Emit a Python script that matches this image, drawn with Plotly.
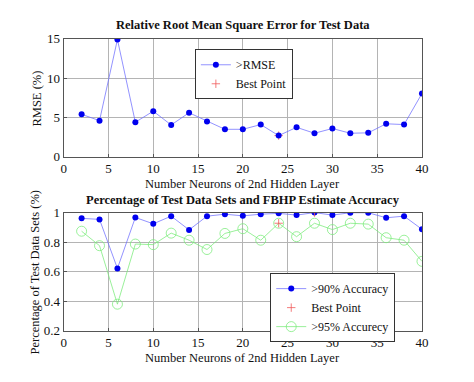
import plotly.graph_objects as go

neurons = [2, 4, 6, 8, 10, 12, 14, 16, 18, 20, 22, 24, 26, 28, 30, 32, 34, 36, 38, 40]
rmse = [5.4, 4.6, 14.9, 4.4, 5.8, 4.05, 5.6, 4.5, 3.5, 3.5, 4.1, 2.7, 3.75, 3.0, 3.6, 3.0, 3.05, 4.2, 4.1, 8.05]
best_rmse_x = [24]
best_rmse_y = [2.7]
acc90 = [0.961, 0.954, 0.622, 0.967, 0.924, 0.976, 0.883, 0.976, 0.989, 0.978, 0.989, 0.995,
         0.983, 1.0, 0.983, 0.999, 0.999, 0.965, 0.976, 0.887]
acc95 = [0.874, 0.776, 0.380, 0.787, 0.783, 0.861, 0.813, 0.750, 0.859, 0.891, 0.813, 0.928,
         0.837, 0.928, 0.885, 0.928, 0.922, 0.830, 0.813, 0.670]
best_acc_x = [24, 28]
best_acc_y = [0.928, 1.0]
x_ticks = [0, 5, 10, 15, 20, 25, 30, 35, 40]
y1_ticks = [0, 5, 10, 15]
y2_ticks = [0.2, 0.4, 0.6, 0.8, 1.0]
y2_labels = ["0.2", "0.4", "0.6", "0.8", "1"]

FONT = "Liberation Serif"
BLUE_LINE = "rgba(110,110,255,0.75)"
GREEN_LINE = "rgba(120,235,120,0.75)"
RED = "rgba(240,90,90,0.8)"

W, H = 474, 382


def fx(p):
    return p / W


def fy(p):
    return 1 - p / H


fig = go.Figure()

# top panel
fig.add_trace(go.Scatter(x=best_rmse_x, y=best_rmse_y, mode="markers", name="Best Point",
                         marker=dict(symbol="cross-thin", size=6, color=RED,
                                     line=dict(width=1, color=RED)),
                         xaxis="x", yaxis="y", legend="legend", legendrank=2))
fig.add_trace(go.Scatter(x=neurons, y=rmse, mode="lines+markers", name=">RMSE",
                         line=dict(color=BLUE_LINE, width=1),
                         marker=dict(color="#0000ee", size=6),
                         xaxis="x", yaxis="y", legend="legend", legendrank=1))

# bottom panel
fig.add_trace(go.Scatter(x=neurons, y=acc95, mode="lines+markers", name=">95% Accurecy",
                         line=dict(color=GREEN_LINE, width=1),
                         marker=dict(symbol="circle-open", size=10, color=GREEN_LINE,
                                     line=dict(width=1, color=GREEN_LINE)),
                         xaxis="x2", yaxis="y2", legend="legend2", legendrank=3))
fig.add_trace(go.Scatter(x=neurons, y=acc90, mode="lines+markers", name=">90% Accuracy",
                         line=dict(color=BLUE_LINE, width=1),
                         marker=dict(color="#0000ee", size=6),
                         xaxis="x2", yaxis="y2", legend="legend2", legendrank=1))
fig.add_trace(go.Scatter(x=best_acc_x, y=best_acc_y, mode="markers", name="Best Point",
                         marker=dict(symbol="cross-thin", size=6, color=RED,
                                     line=dict(width=1, color=RED)),
                         xaxis="x2", yaxis="y2", legend="legend2", legendrank=2))

axis_common = dict(showgrid=True, gridcolor="#b4b4b4", gridwidth=1, showline=True,
                   linecolor="#555555", linewidth=1, mirror=True, ticks="inside",
                   ticklen=3, tickcolor="#555555", zeroline=False,
                   tickfont=dict(family=FONT, size=13, color="#111111"))

xd = [fx(62), fx(428)]
legend_common = dict(xanchor="left", yanchor="top", bgcolor="white",
                     bordercolor="#333333", borderwidth=1,
                     font=dict(family=FONT, size=12, color="#111111"),
                     tracegroupgap=0)
fig.update_layout(
    width=W, height=H,
    margin=dict(l=0, r=0, t=0, b=0),
    paper_bgcolor="white", plot_bgcolor="white",
    font=dict(family=FONT, size=12, color="#111111"),
    xaxis=dict(domain=xd, anchor="y", range=[0, 40], tickvals=x_ticks, **axis_common),
    yaxis=dict(domain=[fy(156), fy(33)], anchor="x", range=[0, 15],
               tickvals=y1_ticks, **axis_common),
    xaxis2=dict(domain=xd, anchor="y2", range=[0, 40], tickvals=x_ticks, **axis_common),
    yaxis2=dict(domain=[fy(337), fy(214)], anchor="x2", range=[0.2, 1.0],
                tickvals=y2_ticks, ticktext=y2_labels, **axis_common),
    legend=dict(x=fx(196), y=fy(44), **legend_common),
    legend2=dict(x=fx(273), y=fy(277), **legend_common),
    showlegend=True,
)

ann = [
    dict(text="<b>Relative Root Mean Square Error for Test Data</b>", x=fx(245), y=fy(19),
         size=12.5),
    dict(text="Number Neurons of 2nd Hidden Layer", x=fx(245), y=fy(184), size=12.5),
    dict(text="RMSE (%)", x=fx(35), y=fy(95), textangle=-90, size=12.5),
    dict(text="<b>Percentage of Test Data Sets and FBHP Estimate Accuracy</b>", x=fx(245),
         y=fy(201), size=12.5),
    dict(text="Number Neurons of 2nd Hidden Layer", x=fx(245), y=fy(365), size=12.5),
    dict(text="Percentage of Test Data Sets (%)", x=fx(33), y=fy(276), textangle=-90,
         size=12.5),
]
for a in ann:
    sz = a.pop("size")
    fig.add_annotation(xref="paper", yref="paper", showarrow=False, xanchor="center",
                       yanchor="middle", font=dict(family=FONT, size=sz, color="#111111"),
                       **a)

fig.write_html("out.html",
               config={"displayModeBar": False},
               post_script="document.body.style.margin='0';"
                           "document.body.style.overflow='hidden';")
